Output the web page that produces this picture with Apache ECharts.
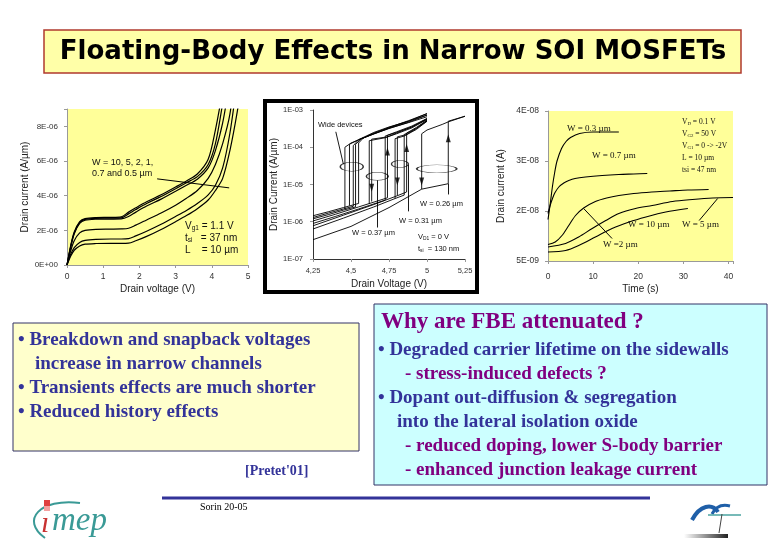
<!DOCTYPE html>
<html>
<head>
<meta charset="utf-8">
<title>Floating-Body Effects in Narrow SOI MOSFETs</title>
<script src="https://cdn.jsdelivr.net/npm/echarts@6/dist/echarts.min.js"></script>
<style>
  html, body { margin: 0; padding: 0; background: #fff; }
  #chart { width: 780px; height: 540px; }
</style>
</head>
<body>
<div id="chart"></div>
<script>
// ---------- plot 1 : Id(Vd), linear, units of 1E-06 A/um ----------
const vdLin = [0, 0.1, 0.2, 0.35, 0.5, 0.8, 1.2, 1.5, 1.7, 1.9, 2.2, 2.6, 3.0, 3.3, 3.6, 3.9, 4.1, 4.3, 4.5, 4.7, 4.9];
const idW10 = [0, 1.1, 1.9, 2.5, 2.68, 2.74, 2.75, 2.78, 3.05, 3.3, 3.65, 4.05, 4.5, 4.85, 5.25, 6.1, 7.8, 10.0, 12, 13, 14];
const idW5  = [0, 1.05, 1.85, 2.45, 2.63, 2.69, 2.7, 2.72, 2.95, 3.2, 3.55, 3.95, 4.4, 4.75, 5.1, 5.8, 7.0, 9.3, 11.5, 13, 14];
const idW2  = [0, 1.0, 1.8, 2.4, 2.58, 2.64, 2.65, 2.66, 2.8, 3.05, 3.4, 3.8, 4.25, 4.6, 4.95, 5.6, 6.6, 8.2, 10.5, 12, 13];
const idW1  = [0, 0.8, 1.4, 1.85, 2.0, 2.06, 2.07, 2.08, 2.12, 2.3, 2.6, 3.0, 3.45, 3.85, 4.3, 5.0, 5.8, 7.0, 8.7, 12, 14];
const idW07 = [0, 0.6, 1.0, 1.3, 1.42, 1.48, 1.5, 1.5, 1.52, 1.68, 1.95, 2.35, 2.8, 3.15, 3.55, 4.05, 4.6, 5.6, 7.6, 10.5, 13];
const idW05 = [0, 0.5, 0.85, 1.1, 1.2, 1.24, 1.25, 1.25, 1.26, 1.4, 1.65, 2.05, 2.5, 2.85, 3.25, 3.75, 4.3, 5.0, 6.6, 8.8, 11.5];
const p1YVals = [0, 2, 4, 6, 8];
const p1YTicks = ['0E+00', '2E-06', '4E-06', '6E-06', '8E-06'];
const p1XVals = [0, 1, 2, 3, 4, 5];
const p1XTicks = ['0', '1', '2', '3', '4', '5'];

// ---------- plot 2 : hysteresis, log scale ----------
const wideA_v = [4.25, 4.35, 4.45, 4.55, 4.55, 4.58, 4.65, 4.75, 4.88, 5.0, 4.88, 4.75, 4.65, 4.55, 4.49, 4.49];
const wideA_i = [1.45e-6, 1.85e-6, 2.4e-6, 3.1e-6, 1.3e-4, 1.75e-4, 2.4e-4, 3.4e-4, 5.2e-4, 8.0e-4, 5.0e-4, 3.3e-4, 2.3e-4, 1.6e-4, 1.2e-4, 2.7e-6];
const wideB_v = [4.25, 4.35, 4.45, 4.515, 4.515, 4.55, 4.65, 4.75, 4.88, 5.0, 4.88, 4.75, 4.6, 4.5, 4.46, 4.46];
const wideB_i = [1.3e-6, 1.7e-6, 2.2e-6, 2.6e-6, 1.1e-4, 1.6e-4, 2.5e-4, 3.5e-4, 5.0e-4, 7.3e-4, 4.7e-4, 3.2e-4, 1.9e-4, 1.3e-4, 1.0e-4, 2.2e-6];
const wideC_v = [4.25, 4.35, 4.45, 4.53, 4.53, 4.57, 4.65, 4.75, 4.88, 5.0];
const wideC_i = [1.2e-6, 1.55e-6, 2.05e-6, 2.5e-6, 1.2e-4, 1.7e-4, 2.3e-4, 3.2e-4, 4.6e-4, 6.6e-4];
const w37a_v = [4.25, 4.4, 4.55, 4.74, 4.74, 4.8, 4.9, 5.0, 4.9, 4.8, 4.74, 4.636, 4.636];
const w37a_i = [1.05e-6, 1.6e-6, 2.5e-6, 4.4e-6, 2.1e-4, 2.6e-4, 3.7e-4, 5.9e-4, 3.5e-4, 2.4e-4, 1.9e-4, 1.65e-4, 3.5e-6];
const w37b_v = [4.25, 4.4, 4.55, 4.725, 4.725, 4.8, 4.9, 5.0, 4.9, 4.8, 4.725, 4.62, 4.62];
const w37b_i = [9e-7, 1.4e-6, 2.2e-6, 3.8e-6, 2.0e-4, 2.5e-4, 3.5e-4, 5.6e-4, 3.3e-4, 2.3e-4, 1.8e-4, 1.5e-4, 3.0e-6];
const w31a_v = [4.25, 4.45, 4.65, 4.805, 4.866, 4.866, 4.93, 5.0, 4.93, 4.866, 4.805, 4.805];
const w31a_i = [7.8e-7, 1.5e-6, 2.9e-6, 5.0e-6, 6.3e-6, 2.4e-4, 3.4e-4, 5.3e-4, 3.2e-4, 2.2e-4, 1.9e-4, 5.0e-6];
const w31b_v = [4.25, 4.45, 4.65, 4.79, 4.85, 4.85, 4.93, 5.0, 4.93, 4.85, 4.79, 4.79];
const w31b_i = [6.4e-7, 1.25e-6, 2.5e-6, 4.2e-6, 5.2e-6, 2.2e-4, 3.2e-4, 5.0e-4, 3.0e-4, 2.0e-4, 1.7e-4, 4.2e-6];
const w26_v = [4.25, 4.5, 4.75, 4.965, 5.14, 5.14, 5.25, 5.14, 5.1, 5.0, 4.965, 4.965];
const w26_i = [3.3e-7, 7.5e-7, 2.4e-6, 7.5e-6, 1.05e-5, 5.0e-4, 6.8e-4, 4.8e-4, 4.1e-4, 2.9e-4, 2.3e-4, 7.5e-6];
// ellipses round each loop group, and the sweep arrowheads
const ringV = [4.505, 4.673, 4.822, 5.064];
const ringI = [3.0e-5, 1.66e-5, 3.56e-5, 2.63e-5];
const upV = [4.74, 4.866, 5.14];
const upI = [7.7e-5, 9.5e-5, 1.74e-4];
const downV = [4.636, 4.805, 4.965];
const downI = [8.2e-6, 1.2e-5, 1.2e-5];
const p2XVals = [4.25, 4.5, 4.75, 5, 5.25];
const p2XTicks = ['4,25', '4,5', '4,75', '5', '5,25'];
const p2YTicks = ['1E-07', '1E-06', '1E-05', '1E-04', '1E-03'];

// ---------- plot 3 : transients, units of 1E-08 A ----------
const t03 = [0, 0.5, 1, 1.5, 2, 3, 4, 5, 7, 10, 13, 15.7];
const id03 = [1.83, 2.15, 2.5, 2.78, 3.0, 3.25, 3.39, 3.47, 3.55, 3.58, 3.58, 3.58];
const t07 = [0, 0.5, 1, 1.5, 2.4, 3.5, 4.6, 6, 8.3, 12, 15.7, 19, 22];
const id07 = [1.95, 2.12, 2.25, 2.36, 2.48, 2.56, 2.61, 2.65, 2.68, 2.71, 2.73, 2.74, 2.75];
const t2 = [0, 1.6, 3.1, 4.6, 6.1, 7.9, 10.5, 13, 15.7, 19, 23, 27, 31, 35.6];
const id2 = [1.33, 1.38, 1.51, 1.71, 1.91, 2.06, 2.19, 2.26, 2.31, 2.35, 2.38, 2.40, 2.42, 2.43];
const t5 = [0, 3.9, 6.8, 9.8, 12.8, 15.7, 19.4, 23.1, 27.6, 32, 36.5, 41];
const id5 = [1.28, 1.35, 1.48, 1.65, 1.81, 1.95, 2.05, 2.11, 2.19, 2.23, 2.26, 2.27];
const t10 = [0, 3.9, 6.8, 10.5, 14.2, 18, 21.7, 26.1, 31];
const id10 = [1.18, 1.21, 1.31, 1.48, 1.65, 1.78, 1.88, 1.98, 2.05];
const p3XVals = [0, 10, 20, 30, 40];
const p3XTicks = ['0', '10', '20', '30', '40'];
const p3YVals = [1, 2, 3, 4];
const p3YTicks = ['5E-09', '2E-08', '3E-08', '4E-08'];

const zip = (xs, ys) => xs.map((x, i) => [x, ys[i]]);
const pick = (vals, ticks) => v => {
  const k = vals.findIndex(a => Math.abs(a - v) < 1e-6);
  return k < 0 ? '' : ticks[k];
};

const SANS = 'Liberation Sans, Arial, sans-serif';
const SERIF = 'Liberation Serif, Times New Roman, serif';
const NAVY = '#333399';
const PURPLE = '#800080';
const YELLOW = '#ffff99';

function axisCommon() {
  return {
    axisLine: { show: true, lineStyle: { color: '#999', width: 1 } },
    axisTick: { show: true, length: 3, lineStyle: { color: '#999' } },
    splitLine: { show: false },
    nameTextStyle: { color: '#222', fontSize: 10, fontFamily: SANS },
    nameLocation: 'middle'
  };
}

function curve(data, xi, yi, width, smooth) {
  return {
    type: 'line', xAxisIndex: xi, yAxisIndex: yi, data: data,
    showSymbol: false, smooth: smooth, clip: true,
    lineStyle: { color: '#000', width: width }, silent: true
  };
}

function arrow(from, to) {
  return [{ coord: from }, { coord: to }];
}

function txt(x, y, text, font, fill, align) {
  return {
    type: 'text', x: x, y: y, silent: true,
    style: { text: text, font: font, fill: fill, textAlign: align || 'left', textVerticalAlign: 'middle' }
  };
}

// text with a small lowered run, written {s|...}
function rich(x, y, text, size, family) {
  return {
    type: 'text', x: x, y: y, silent: true,
    style: {
      text: text, fill: '#111', textAlign: 'left', textVerticalAlign: 'middle',
      fontSize: size, fontFamily: family,
      rich: {
        s: { fontSize: size * 0.65, fontFamily: family, fill: '#111', padding: [size * 0.45, 0, 0, 0] }
      }
    }
  };
}

function buildGraphics() {
  const g = [];
  // title banner
  g.push({ type: 'rect', shape: { x: 44, y: 30, width: 697, height: 43 }, style: { fill: '#ffffa8', stroke: '#b03a2e', lineWidth: 1.5 }, silent: true });
  g.push(txt(393, 52, 'Floating-Body Effects in Narrow SOI MOSFETs', 'bold 26px DejaVu Sans, sans-serif', '#000', 'center'));

  // plot 1 annotations
  g.push(txt(92, 163, 'W = 10, 5, 2, 1,', '9px ' + SANS, '#111'));
  g.push(txt(92, 174, '0.7 and 0.5 µm', '9px ' + SANS, '#111'));
  g.push(rich(185, 226, 'V{s|g1} = 1.1 V', 10, SANS));
  g.push(rich(185, 238, 't{s|si}   = 37 nm', 10, SANS));
  g.push(rich(185, 250, 'L    = 10 µm', 10, SANS));

  // plot 2 frame + annotations
  g.push({ type: 'rect', shape: { x: 265, y: 101, width: 212, height: 191 }, style: { fill: 'none', stroke: '#000', lineWidth: 4 }, silent: true, z: 10 });
  g.push(txt(318, 125, 'Wide devices', '7.5px ' + SANS, '#111'));
  g.push(txt(420, 204, 'W = 0.26 µm', '7.5px ' + SANS, '#111'));
  g.push(txt(399, 221, 'W = 0.31 µm', '7.5px ' + SANS, '#111'));
  g.push(txt(352, 233, 'W = 0.37 µm', '7.5px ' + SANS, '#111'));
  g.push(rich(418, 237, 'V{s|D1} = 0 V', 7.5, SANS));
  g.push(rich(418, 249, 't{s|si}  = 130 nm', 7.5, SANS));

  // plot 3 annotations
  g.push(txt(567, 129, 'W = 0.3 µm', '9px ' + SERIF, '#111'));
  g.push(txt(592, 156, 'W = 0.7 µm', '9px ' + SERIF, '#111'));
  g.push(txt(628, 225, 'W = 10 µm', '9px ' + SERIF, '#111'));
  g.push(txt(682, 225, 'W = 5 µm', '9px ' + SERIF, '#111'));
  g.push(txt(603, 245, 'W =2 µm', '9px ' + SERIF, '#111'));
  g.push(rich(682, 122, 'V{s|D} = 0.1 V', 7.5, SERIF));
  g.push(rich(682, 134, 'V{s|G2} = 50 V', 7.5, SERIF));
  g.push(rich(682, 146, 'V{s|G1} = 0 -> -2V', 7.5, SERIF));
  g.push(rich(682, 158, 'L = 10 µm', 7.5, SERIF));
  g.push(rich(682, 170, 'tsi = 47 nm', 7.5, SERIF));

  // left conclusion box
  const bF = 'bold 19px ' + SERIF;
  g.push({ type: 'rect', shape: { x: 13, y: 323, width: 346, height: 128 }, style: { fill: '#ffffcc', stroke: '#333366', lineWidth: 1 }, silent: true });
  g.push(txt(18, 340, '• Breakdown and snapback voltages', bF, NAVY));
  g.push(txt(35, 364, 'increase in narrow channels', bF, NAVY));
  g.push(txt(18, 388, '• Transients effects are much shorter', bF, NAVY));
  g.push(txt(18, 412, '• Reduced history effects', bF, NAVY));
  g.push(txt(245, 471, "[Pretet'01]", 'bold 14px ' + SERIF, NAVY));

  // right box
  g.push({ type: 'rect', shape: { x: 374, y: 304, width: 393, height: 181 }, style: { fill: '#ccffff', stroke: '#333366', lineWidth: 1 }, silent: true });
  g.push(txt(381, 322, 'Why are FBE attenuated ?', 'bold 23px ' + SERIF, PURPLE));
  g.push(txt(378, 350, '• Degraded carrier lifetime on the sidewalls', bF, NAVY));
  g.push(txt(405, 374, '- stress-induced defects ?', bF, PURPLE));
  g.push(txt(378, 398, '• Dopant out-diffusion & segregation', bF, NAVY));
  g.push(txt(397, 422, 'into the lateral isolation oxide', bF, NAVY));
  g.push(txt(405, 446, '- reduced doping, lower S-body barrier', bF, PURPLE));
  g.push(txt(405, 470, '- enhanced junction leakage current', bF, PURPLE));

  // footer
  g.push({ type: 'line', shape: { x1: 162, y1: 498, x2: 650, y2: 498 }, style: { stroke: NAVY, lineWidth: 3 }, silent: true });
  g.push(txt(200, 507, 'Sorin 20-05', '10px ' + SERIF, '#000'));

  // imep logo (rough)
  g.push({ type: 'bezierCurve', shape: { x1: 45, y1: 538, cpx1: 20, cpy1: 520, cpx2: 40, cpy2: 498, x2: 80, y2: 503 }, style: { stroke: '#3a9a96', lineWidth: 2, fill: 'none' }, silent: true });
  g.push({ type: 'rect', shape: { x: 44, y: 500, width: 6, height: 6 }, style: { fill: '#e04040' }, silent: true });
  g.push({ type: 'rect', shape: { x: 44, y: 506, width: 6, height: 5 }, style: { fill: '#f4a0a0' }, silent: true });
  g.push(txt(41, 524, 'ı', 'italic 30px ' + SERIF, '#c83232'));
  g.push(txt(52, 521, 'mep', 'italic 33px ' + SERIF, '#3a9a96'));

  // right logo (rough)
  g.push({ type: 'bezierCurve', shape: { x1: 692, y1: 520, cpx1: 700, cpy1: 505, cpx2: 712, cpy2: 503, x2: 718, y2: 512 }, style: { stroke: '#1f5fa8', lineWidth: 4, fill: 'none' }, silent: true });
  g.push({ type: 'bezierCurve', shape: { x1: 712, y1: 514, cpx1: 716, cpy1: 506, cpx2: 722, cpy2: 504, x2: 730, y2: 506 }, style: { stroke: '#1f5fa8', lineWidth: 3, fill: 'none' }, silent: true });
  g.push({ type: 'line', shape: { x1: 708, y1: 515, x2: 741, y2: 515 }, style: { stroke: '#4aa3a0', lineWidth: 1.5 }, silent: true });
  g.push({ type: 'line', shape: { x1: 722, y1: 514, x2: 719, y2: 533 }, style: { stroke: '#444', lineWidth: 1 }, silent: true });
  g.push({
    type: 'rect', shape: { x: 684, y: 534, width: 44, height: 4 }, silent: true,
    style: { fill: new echarts.graphic.LinearGradient(0, 0, 1, 0, [{ offset: 0, color: '#ffffff' }, { offset: 1, color: '#222222' }]) }
  });
  return g;
}

const chart = echarts.init(document.getElementById('chart'), null, { renderer: 'canvas' });

const option = {
  animation: false,
  backgroundColor: '#fff',
  grid: [
    { left: 67, top: 109, width: 181, height: 156, show: true, backgroundColor: YELLOW, borderWidth: 0 },
    { left: 313, top: 110, width: 152, height: 149, show: true, backgroundColor: '#fff', borderWidth: 0 },
    { left: 548, top: 111, width: 185, height: 150, show: true, backgroundColor: YELLOW, borderWidth: 0 }
  ],
  xAxis: [
    Object.assign(axisCommon(), {
      gridIndex: 0, type: 'value', min: 0, max: 5, interval: 1,
      name: 'Drain voltage (V)', nameGap: 19,
      axisLabel: { color: '#333', fontSize: 8.5, fontFamily: SANS, margin: 7, formatter: pick(p1XVals, p1XTicks) }
    }),
    Object.assign(axisCommon(), {
      gridIndex: 1, type: 'value', min: 4.25, max: 5.25, interval: 0.25,
      name: 'Drain Voltage (V)', nameGap: 20,
      axisLine: { show: true, lineStyle: { color: '#333', width: 1 } },
      axisLabel: { color: '#333', fontSize: 7.5, fontFamily: SANS, margin: 8, formatter: pick(p2XVals, p2XTicks) }
    }),
    Object.assign(axisCommon(), {
      gridIndex: 2, type: 'value', min: 0, max: 41, interval: 10,
      name: 'Time (s)', nameGap: 23,
      axisLabel: { color: '#333', fontSize: 8.5, fontFamily: SANS, margin: 11, formatter: pick(p3XVals, p3XTicks) }
    })
  ],
  yAxis: [
    Object.assign(axisCommon(), {
      gridIndex: 0, type: 'value', min: 0, max: 9, interval: 2,
      name: 'Drain current (A/µm)', nameGap: 36,
      axisLabel: { color: '#333', fontSize: 8, fontFamily: SANS, margin: 9, formatter: pick(p1YVals, p1YTicks) }
    }),
    Object.assign(axisCommon(), {
      gridIndex: 1, type: 'log', logBase: 10, min: 1e-7, max: 1e-3,
      name: 'Drain Current (A/µm)', nameGap: 34,
      axisLine: { show: true, lineStyle: { color: '#333', width: 1 } },
      axisLabel: {
        color: '#333', fontSize: 7.5, fontFamily: SANS, margin: 10,
        formatter: v => p2YTicks[Math.round(Math.log10(v)) + 7] || ''
      }
    }),
    Object.assign(axisCommon(), {
      gridIndex: 2, type: 'value', min: 1, max: 4, interval: 1,
      name: 'Drain current (A)', nameGap: 42,
      axisLabel: { color: '#333', fontSize: 8.5, fontFamily: SANS, margin: 9, formatter: pick(p3YVals, p3YTicks) }
    })
  ],
  series: [
    // plot 1
    Object.assign(curve(zip(vdLin, idW10), 0, 0, 1.2, 0.3), {
      markLine: {
        silent: true, symbol: ['none', 'arrow'], symbolSize: [0, 7], label: { show: false },
        lineStyle: { color: '#000', width: 1, type: 'solid' },
        data: [arrow([2.49, 4.97], [4.48, 4.45])]
      }
    }),
    curve(zip(vdLin, idW5), 0, 0, 1.2, 0.3),
    curve(zip(vdLin, idW2), 0, 0, 1.2, 0.3),
    curve(zip(vdLin, idW1), 0, 0, 1.2, 0.3),
    curve(zip(vdLin, idW07), 0, 0, 1.2, 0.3),
    curve(zip(vdLin, idW05), 0, 0, 1.2, 0.3),
    // plot 2
    curve(zip(wideA_v, wideA_i), 1, 1, 0.9, false),
    curve(zip(wideB_v, wideB_i), 1, 1, 0.9, false),
    curve(zip(wideC_v, wideC_i), 1, 1, 0.9, false),
    curve(zip(w37a_v, w37a_i), 1, 1, 0.9, false),
    curve(zip(w37b_v, w37b_i), 1, 1, 0.9, false),
    curve(zip(w31a_v, w31a_i), 1, 1, 0.9, false),
    curve(zip(w31b_v, w31b_i), 1, 1, 0.9, false),
    curve(zip(w26_v, w26_i), 1, 1, 0.9, false),
    {
      type: 'scatter', xAxisIndex: 1, yAxisIndex: 1, silent: true,
      data: zip(ringV, ringI).map((p, i) => ({ value: p, symbolSize: [[23, 9], [22, 8], [17, 7], [40, 8]][i] })),
      symbol: 'circle',
      itemStyle: { color: 'rgba(0,0,0,0)', borderColor: '#000', borderWidth: 0.9 },
      markLine: {
        silent: true, symbol: ['none', 'arrow'], symbolSize: [0, 6], label: { show: false },
        lineStyle: { color: '#000', width: 0.9, type: 'solid' },
        data: [
          arrow([4.45, 3.5e-5], [4.40, 2.6e-4]),
          arrow([4.673, 1.3e-5], [4.673, 7e-7]),
          arrow([4.877, 3.4e-5], [4.877, 1.9e-6]),
          arrow([5.14, 1.05e-5], [5.14, 5.4e-6])
        ]
      }
    },
    {
      type: 'scatter', xAxisIndex: 1, yAxisIndex: 1, silent: true,
      data: zip(upV, upI), symbol: 'triangle', symbolSize: [5, 8],
      itemStyle: { color: '#000' }
    },
    {
      type: 'scatter', xAxisIndex: 1, yAxisIndex: 1, silent: true,
      data: zip(downV, downI), symbol: 'triangle', symbolSize: [5, 8], symbolRotate: 180,
      itemStyle: { color: '#000' }
    },
    // plot 3
    Object.assign(curve(zip(t03, id03), 2, 2, 1.1, 0.3), {
      markLine: {
        silent: true, symbol: ['none', 'arrow'], symbolSize: [0, 7], label: { show: false },
        lineStyle: { color: '#000', width: 1, type: 'solid' },
        data: [arrow([14.2, 1.45], [7.9, 2.05]), arrow([33.5, 1.81], [37.6, 2.25])]
      }
    }),
    curve(zip(t07, id07), 2, 2, 1.1, 0.3),
    curve(zip(t2, id2), 2, 2, 1.1, 0.3),
    curve(zip(t5, id5), 2, 2, 1.1, 0.3),
    curve(zip(t10, id10), 2, 2, 1.1, 0.3)
  ],
  graphic: buildGraphics()
};

chart.setOption(option);
</script>
</body>
</html>
